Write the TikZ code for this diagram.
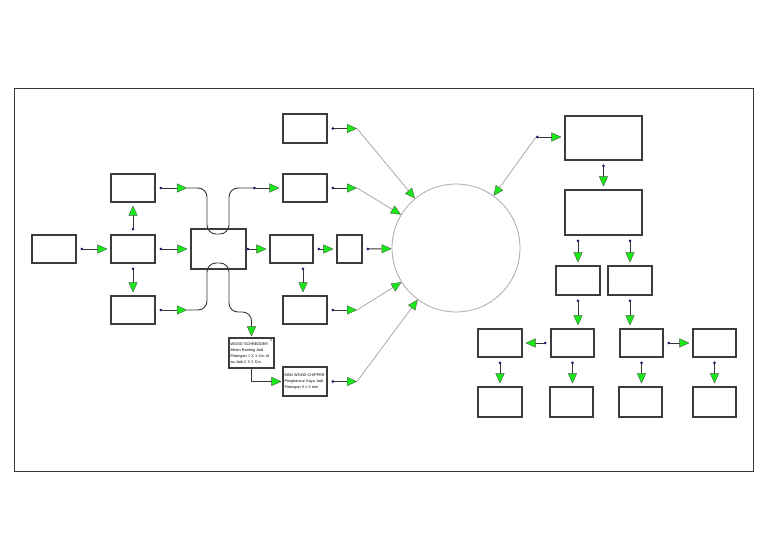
\documentclass[tikz,border=0pt]{standalone}
\usepackage{fontspec}
\setmainfont{Liberation Sans}
\usetikzlibrary{arrows.meta}
\definecolor{arrgreen}{RGB}{25,232,25}
\definecolor{boxgray}{RGB}{60,60,60}
\definecolor{linegray}{RGB}{55,55,55}
\definecolor{lightline}{RGB}{160,160,160}
\definecolor{circgray}{RGB}{170,170,170}
\definecolor{dotblue}{RGB}{30,30,110}
\definecolor{tipedge}{RGB}{70,90,70}
\begin{document}
\begin{tikzpicture}[x=1pt,y=-1pt,
  box/.style={draw=boxgray, line width=1.1pt, fill=white, inner sep=0pt, minimum width=44pt, minimum height=28pt},
  tbox/.style={draw=boxgray, line width=1.1pt, fill=white, inner sep=1.5pt, align=left, font=\fontsize{3.8}{6}\selectfont},
  gtip/.tip={Triangle[length=10pt,width=9pt,color=tipedge,fill=arrgreen,line width=0.4pt]},
  dtip/.tip={Circle[length=2.6pt,color=dotblue]},
  conn/.style={draw=linegray, line width=0.9pt, dtip-gtip, shorten <=4pt, shorten >=3pt},
  plain/.style={draw=linegray, line width=0.9pt, rounded corners=9pt},
  plainarr/.style={draw=linegray, line width=0.9pt, -gtip, rounded corners=9pt, shorten >=1pt},
  garr/.style={draw=lightline, line width=0.7pt, -gtip}]
\useasboundingbox (0,0) rectangle (768,543);
\draw[draw=linegray, line width=0.8pt] (14,88) rectangle (753,471);

% left part
\node[box] (A) at (54,249) {};
\node[box] (Bt) at (133,188) {};
\node[box] (Bm) at (133,249) {};
\node[box] (Bb) at (133,310) {};
\node[box, minimum width=55pt, minimum height=40pt] (C) at (218.5,249) {};
\node[box, minimum height=29pt] (T) at (305,128.5) {};
\node[box] (Da) at (305,188) {};
\node[box, minimum width=43pt] (Db) at (291.5,249) {};
\node[box, minimum width=25pt] (E) at (349.5,249) {};
\node[box] (Dc) at (305,310) {};
\node[tbox, text width=42pt, minimum height=30pt] (TBa) at (251.5,353) {\mbox{WOOD SCHREDDER}\\\mbox{Mesin Ranting Jadi}\\\mbox{Potongan 1 X 1 Cm At}\\\mbox{au Jadi 2 X 2 Cm}};
\node[font=\fontsize{4}{4}\selectfont, inner sep=0pt] (q) at (271,341.5) {?};
\node[tbox, text width=41pt, minimum height=29pt] (TBb) at (305,381.5) {\mbox{MSN WOOD CHIPPER}\\\mbox{Penghancur Kayu Jadi}\\\mbox{Potongan 5 x 5 mm}};

\node[draw=circgray, line width=0.8pt, circle, minimum size=128pt, inner sep=0pt] (circ) at (456,248) {};

% right part
\node[box, minimum width=77pt, minimum height=44pt] (Ra) at (603.5,138) {};
\node[box, minimum width=77pt, minimum height=45pt] (Rb) at (603.5,212.5) {};
\node[box, minimum height=29pt] (Rc) at (578,280.5) {};
\node[box, minimum height=29pt] (Rd) at (630,280.5) {};
\node[box] (Sa) at (500,343) {};
\node[box, minimum width=43pt] (Sb) at (572.5,343) {};
\node[box, minimum width=43pt] (Sc) at (641.5,343) {};
\node[box, minimum width=43pt] (Sd) at (714.5,343) {};
\node[box, minimum height=30pt] (Ua) at (500,402) {};
\node[box, minimum width=43pt, minimum height=30pt] (Ub) at (571.5,402) {};
\node[box, minimum width=43pt, minimum height=30pt] (Uc) at (640.5,402) {};
\node[box, minimum width=43pt, minimum height=30pt] (Ud) at (714.5,402) {};

% junction coordinates
\coordinate (jA) at (187,188);
\coordinate (jB) at (253,188);
\coordinate (jC) at (187,310);
\coordinate (jT) at (357,128.5);
\coordinate (jD) at (357,188);
\coordinate (jE) at (357,310);
\coordinate (jF) at (357,381.5);
\coordinate (jR) at (536,137);

% left connectors
\draw[conn] (A.east) -- (Bm.west);
\draw[conn] (Bm.north) -- (Bt.south);
\draw[conn] (Bm.south) -- (Bb.north);
\draw[conn] (Bm.east) -- (C.west);
\draw[conn, shorten >=0pt] (Bt.east) -- (jA);
\draw[plain] (jA) -- (207,188) -- (207,234) -- (229,234) -- (229,188) -- (jB);
\draw[conn, shorten <=0pt] (jB) -- (Da.west);
\draw[conn, shorten >=0pt] (Bb.east) -- (jC);
\draw[plainarr] (jC) -- (207,310) -- (207,263) -- (229,263) -- (229,312) -| (TBa.north);
\draw[conn, shorten <=0pt] (C.east) -- (Db.west);
\draw[plainarr, rounded corners=0pt] (TBa.south) |- (TBb.west);
\draw[conn] (Db.east) -- (E.west);
\draw[conn] (Db.south -| 303,0) -- (Dc.north -| 303,0);

% into the circle
\draw[conn, shorten >=0pt] (T.east) -- (jT);
\draw[conn, shorten >=0pt] (Da.east) -- (jD);
\draw[conn, shorten >=0pt] (Dc.east) -- (jE);
\draw[conn, shorten >=0pt] (TBb.east) -- (jF);
\draw[garr] (jT) -- (circ);
\draw[garr] (jD) -- (circ);
\draw[garr] (jE) -- (circ);
\draw[garr] (jF) -- (circ);
\draw[conn, shorten >=0pt] (E.east) -- (circ);

% out of the circle
\draw[garr] (jR) -- (circ);
\draw[conn, shorten <=0pt] (jR) -- (Ra.west |- jR);

% right connectors
\draw[conn] (Ra.south) -- (Rb.north);
\draw[conn] (Rb.south -| Rc) -- (Rc.north);
\draw[conn] (Rb.south -| Rd) -- (Rd.north);
\draw[conn] (Rc.south) -- (Rc.south |- Sb.north);
\draw[conn] (Rd.south) -- (Rd.south |- Sc.north);
\draw[conn] (Sb.west) -- (Sa.east);
\draw[conn] (Sc.east) -- (Sd.west);
\draw[conn] (Sa.south) -- (Ua.north);
\draw[conn] (Sb.south) -- (Sb.south |- Ub.north);
\draw[conn] (Sc.south) -- (Sc.south |- Uc.north);
\draw[conn] (Sd.south) -- (Ud.north);
\end{tikzpicture}
\end{document}
